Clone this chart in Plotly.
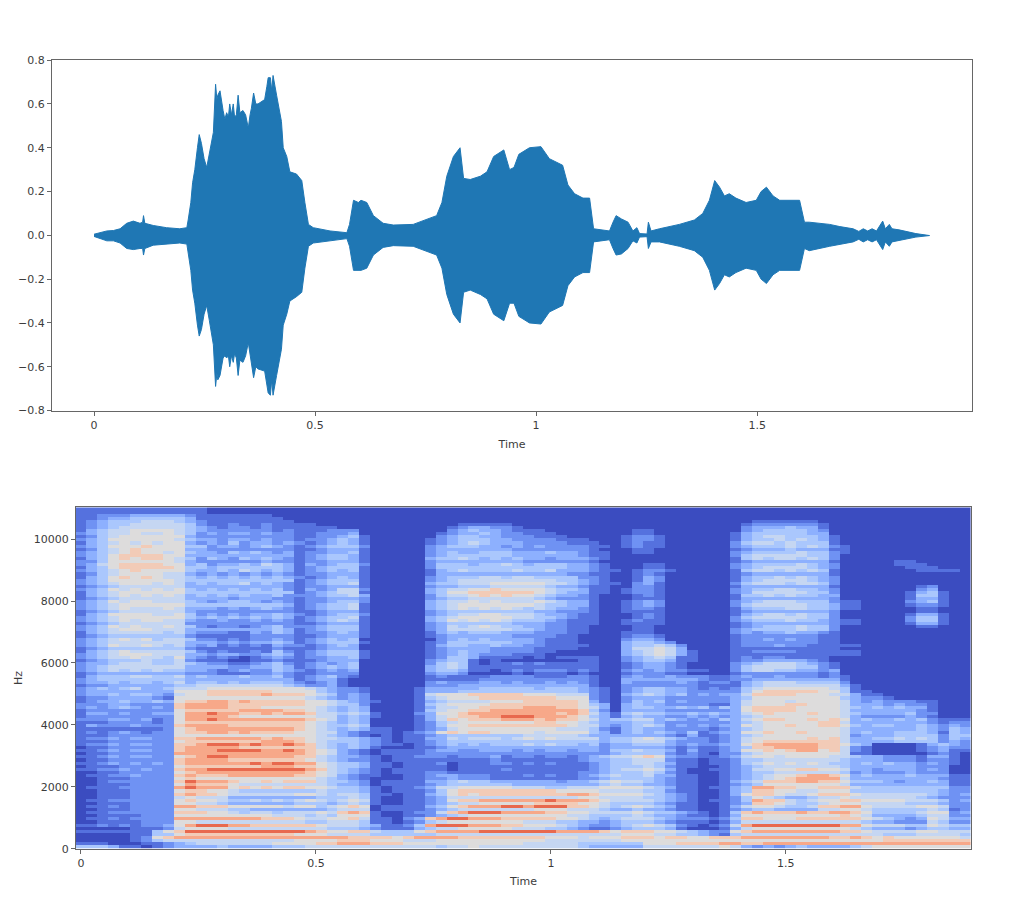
import plotly.graph_objects as go

# --- Waveform envelope ---
wave_time = [
    0, .014, .029, .044, .059, .074, .089, .104, .110, .112, .115, .134, .164, .194,
    .21, .213, .219, .223, .228, .234, .238, .243, .249, .255, .261, .27, .275, .278,
    .28, .285, .292, .296, .3, .304, .307, .311, .315, .318, .322, .326, .33, .337,
    .343, .349, .353, .356, .361, .366, .371, .386, .391, .394, .399, .402, .405, .409,
    .413, .424, .428, .436, .443, .458, .47, .477, .485, .496, .534, .572, .578, .587,
    .598, .604, .617, .632, .654, .677, .722, .775, .787, .798, .813, .828, .836, .851,
    .874, .889, .904, .927, .94, .95, .961, .985, 1.011, 1.03, 1.06, 1.072, 1.087, 1.106,
    1.121, 1.13, 1.166, 1.174, 1.181, 1.193, 1.208, 1.219, 1.228, 1.234, 1.251, 1.254, 1.26, 1.279,
    1.324, 1.358, 1.377, 1.392, 1.404, 1.415, 1.426, 1.437, 1.452, 1.475, 1.498, 1.509, 1.521, 1.536,
    1.551, 1.596, 1.607, 1.618, 1.664, 1.687, 1.702, 1.717, 1.73, 1.74, 1.75, 1.76, 1.77, 1.784,
    1.79, 1.799, 1.805, 1.821, 1.859, 1.89,
]
wave_upper = [
    .005, .012, .02, .022, .03, .055, .065, .055, .06, .09, .055, .045, .035, .03,
    .035, .07, .15, .24, .3, .4, .46, .42, .35, .31, .38, .47, .69, .62,
    .64, .66, .57, .53, .56, .54, .6, .55, .6, .54, .55, .64, .56, .57,
    .55, .49, .55, .58, .65, .6, .6, .62, .68, .72, .72, .66, .73, .68,
    .64, .52, .4, .36, .29, .28, .25, .15, .05, .035, .02, .012, .05, .16,
    .15, .16, .15, .09, .055, .047, .05, .09, .15, .27, .36, .4, .26, .255,
    .27, .29, .36, .39, .3, .31, .37, .4, .405, .35, .32, .23, .19, .17,
    .17, .03, .02, .06, .09, .075, .06, .02, .035, .008, .006, .06, .02, .03,
    .05, .07, .1, .16, .25, .22, .18, .19, .17, .15, .16, .2, .22, .18,
    .16, .16, .06, .06, .05, .04, .035, .03, .018, .03, .02, .03, .02, .065,
    .03, .05, .03, .025, .008, .001,
]
wave_lower = [
    -.005, -.014, -.025, -.025, -.035, -.06, -.065, -.06, -.06, -.09, -.06, -.045, -.04, -.035,
    -.04, -.07, -.16, -.25, -.31, -.41, -.46, -.43, -.36, -.32, -.39, -.5, -.69, -.63,
    -.66, -.64, -.56, -.55, -.56, -.55, -.6, -.55, -.58, -.54, -.56, -.64, -.57, -.58,
    -.55, -.49, -.55, -.58, -.65, -.6, -.61, -.62, -.68, -.72, -.73, -.66, -.73, -.68,
    -.64, -.52, -.41, -.36, -.3, -.28, -.26, -.15, -.05, -.035, -.025, -.015, -.05, -.16,
    -.16, -.16, -.15, -.09, -.055, -.047, -.05, -.09, -.15, -.27, -.36, -.4, -.26, -.25,
    -.27, -.29, -.36, -.39, -.31, -.31, -.37, -.4, -.405, -.35, -.32, -.23, -.19, -.17,
    -.17, -.03, -.02, -.06, -.09, -.085, -.06, -.025, -.035, -.008, -.006, -.06, -.03, -.03,
    -.05, -.07, -.1, -.16, -.25, -.22, -.18, -.19, -.17, -.15, -.16, -.2, -.22, -.18,
    -.16, -.16, -.06, -.07, -.05, -.04, -.035, -.03, -.018, -.03, -.02, -.03, -.02, -.065,
    -.03, -.05, -.03, -.025, -.008, -.001,
]

wave_ticks = [0, 0.5, 1, 1.5]
wave_tick_labels = ["0", "0.5", "1", "1.5"]
amp_ticks = [-0.8, -0.6, -0.4, -0.2, 0, 0.2, 0.4, 0.6, 0.8]
hz_ticks = [0, 2000, 4000, 6000, 8000, 10000]

# --- Spectrogram levels 0-9, one string per frequency band, highest band first ---
SPEC_ROWS = [
    "1111111111 1100000000 0000000000 0000000000 0000000000 0000000000 0000000000 0000000000 00",
    "1111111111 1100000000 0000000000 0000000000 0000000000 0000000000 0000000000 0000000000 00",
    "1122233333 2111111100 0000000000 0000000000 0000000000 0000000000 0000000000 0000000000 00",
    "1123344444 3111111110 0000000000 0000000000 0000000000 0000000000 0000000000 0000000000 00",
    "1234445554 3211111111 0000000000 0000000000 0000000000 0000000000 0011111100 0000000000 00",
    "1234455555 4211211211 1100000000 0000011111 0000000000 0000000000 0122222210 0000000000 00",
    "1234555555 4321221211 1111000000 0000123322 1000000000 0000000000 0233343310 0000000000 00",
    "1345566665 4322222212 1112220000 0000234332 1110000000 0110000000 0234444320 0000000000 00",
    "2345565565 4232332322 1122230000 0001233432 2111000000 0110000000 1344444330 0000000000 00",
    "1245666666 3222222222 1122341000 0002344332 2211100000 1221000000 1345544431 0000000000 00",
    "2346666665 4332332322 1223431000 0012344433 2222111000 1221000000 1344545431 0000000000 00",
    "1345656566 3232423323 2123431000 0012345433 3222211100 1211000000 2455454441 0000000000 00",
    "2346667666 4423323432 1234442000 0023444332 3232222110 1211000000 2344454542 1000000000 00",
    "1245676666 3322222222 1123331000 0023333333 2222222100 0110000000 1233343331 1000000000 00",
    "2345676656 4332434323 1223341000 0023433444 3334332110 0110000000 2344445442 1000000000 00",
    "2346777766 3333333333 1234431000 0023444444 3333332110 0000000000 2455555442 0000000000 00",
    "1346767765 4243243432 1234431000 0034454343 4332333210 0000000000 1454554542 0000000000 00",
    "2246666665 3222222322 1223331000 0023333333 3222222100 0000000000 1233333331 0000011000 00",
    "2356777766 3423343543 1323442000 0024443445 4344433210 0011000000 2344445432 0000011100 00",
    "1346777776 4434444443 1234441000 0024444444 4444433210 0011000000 2345555432 0000001110 00",
    "2345676666 4334354343 1234341000 0013454444 5445333211 0122100000 1455454541 0000000111 10",
    "1245666655 3232323232 1223331000 0013333333 3333322110 0121000000 1233333331 0000000000 00",
    "1346767655 4343434343 2123431000 0023444554 5544442210 0132000000 1344545432 0000000000 00",
    "2346666665 4444444444 1234441000 0023455555 5555443210 0132000000 1345555432 0000000000 00",
    "2345666565 3434453432 1234451000 0034455566 6665543211 0231000000 2455545542 0000000000 00",
    "1234555555 3333333332 1223331000 0023344455 5554332110 0221000000 1333333331 0000000120 00",
    "2346565656 4343434342 1323552000 0034556676 6665443110 1221000000 2344554432 0000000230 00",
    "1345666666 4444444444 1234551000 0034667777 7765433110 1221000000 2355555442 0000001341 00",
    "1345656565 3434343342 2234453000 0024556767 6654332100 0121000000 1445454433 0000001441 00",
    "1234555555 3333233322 1223332000 0023445555 5543222100 0111000000 1333333332 0000001331 00",
    "2346566555 4323443232 1223442000 0034556565 5565433100 1232000000 2345554442 1100002341 00",
    "2345666666 4444444443 1234451000 0034566666 6654433100 1232000000 2455555443 1100001221 00",
    "2345655565 3332323432 1234451000 0034565656 5454332100 1221000000 1344455443 1100000110 00",
    "1234555555 3222222222 1123331000 0023444444 4433222100 1111000000 1233333332 0000000110 00",
    "1346666556 4232323343 2123442000 0023455665 5543321100 0121000000 1345545442 0000001331 00",
    "2345666666 4343434343 1234451000 0034566666 5544321100 0121000000 2455555442 0000002441 00",
    "2345656655 3223223232 1234541000 0034656565 4443211100 1211000000 2344454432 1100002441 00",
    "1234555555 2222222222 1123331000 0023444444 3332211100 1111000000 1233333332 1100001331 00",
    "2346565565 4212212342 2234441000 0023545654 4332211000 0110000000 1234445442 0000000110 00",
    "2345666555 3333333343 1234441000 0023555555 4432211000 0110000000 2344445442 0000000000 00",
    "1345555545 3222113243 1223431000 0013434443 3322211000 1110000000 2323343321 0000000000 00",
    "1234444444 2111112222 1123331000 0012333333 2222110000 1221000000 1222222211 0000000000 00",
    "2345656455 4221212232 1234340000 0002343433 3321110000 2332000000 1223232211 0000000000 00",
    "2345555555 3332323343 1234441000 0012444444 3321110000 3443200000 1222222211 0000000000 00",
    "2346556545 3231212132 2123430000 0013443343 3221111000 3445420000 1222322111 1100000000 00",
    "1234444444 2111111121 1123330000 0012333322 2211110000 3556530000 1111111111 0000000000 00",
    "1345655555 4212112142 1234441000 0012343322 2211000000 3456531000 1122221111 1100000000 00",
    "2345666555 3323322343 1234441000 0012343222 1110000000 3456531000 1111111111 1100000000 00",
    "2345565546 3212101232 1223341000 0012443111 1010111100 2345411000 1212211110 0000000000 00",
    "1234445445 2111001121 1123330000 0023441010 0000001100 2344311000 1223333210 0000000000 00",
    "2334555445 4322112342 1232340000 0024541011 2121111100 1233210000 2345554321 0000000000 00",
    "2345555555 3333223343 1234340000 0034541111 1111111100 1233210000 2455554421 0000000000 00",
    "2345454544 3321232243 2123230000 0034431101 2122212100 2323221100 2455443323 0000000000 00",
    "1233333333 2221112232 1122220000 0023320000 1011101000 1222110000 1222222212 0000000000 00",
    "1344455445 3433343342 1234210000 0012111122 2211122100 2322322211 2322322212 1000000000 00",
    "2344444444 3333333333 1233100000 0011111222 2222222100 3333333211 2233333333 1000000000 00",
    "2334344345 3443434443 2123100000 0023222332 3223232100 3222232122 1345554444 2000000000 00",
    "1223333334 4555555554 3223100000 0022233333 3333333100 2222222111 1345555555 3100000000 00",
    "2343453345 5566666666 6543221000 0133333444 4434443210 2344332121 2456666665 4100000000 00",
    "2333333336 6677777766 6643221000 0133344444 4444443210 2344332222 2467777766 4110000000 00",
    "2334344325 6677777877 7654232000 0156667777 7666555210 3454342323 3577776665 5311000000 00",
    "1223333216 6666666666 6543232000 0145666777 7777666210 2333222222 3466666666 4322100000 00",
    "1233433436 7788787777 7665432100 0134555566 6777776310 2434232222 3566656666 5323222110 00",
    "2223322227 8888777777 7665442000 0145666677 7777776430 3433222211 3566677666 5333232210 00",
    "2323432327 8888777666 6654343000 0135566777 7888776530 3443343424 3677776666 5434343310 00",
    "1222222226 7777788887 7654343000 0145667788 8888887420 3333222222 3677776666 5333333210 00",
    "1332322336 8898877878 8755454100 0236678888 8888787531 4544334343 3567666766 5433334220 00",
    "1222222226 8888766666 6655343100 0135677889 9988876431 3433223232 3456666666 5322223210 00",
    "2223323126 8898888888 8765343000 0135767778 8878776534 4553432324 3567766767 6343343421 11",
    "1112222126 7777777777 7654343000 0124566666 6677665433 3443222222 3456666677 5333333321 22",
    "1322232227 8888777777 7654454000 0124667777 7777765532 3454232323 3656676677 6434433432 32",
    "1111111126 7888888888 7654343110 0123566666 6666555421 3433222212 3456666666 5333333432 43",
    "1212321226 7788787777 6655321110 1236767766 6656666431 3434324123 3667667666 5343344431 43",
    "1112222226 6666666666 6654321010 1123444444 4555554333 3333213112 3456666666 5233344442 44",
    "1223233227 7888888787 7655443210 1133545554 5656555534 4565432212 3566666767 5334454542 43",
    "1112222226 7777777888 7654443210 1123444444 4444444434 4555322212 3567777777 5333344442 32",
    "1223233227 7899989889 8754343211 0123434344 4545443423 3444323223 3678888877 6430000134 32",
    "0112222227 8888877777 7754343100 0112333333 3333333323 3333212112 3477888877 5210000123 22",
    "1123233227 8889999889 8765321011 1123322333 2323323324 4544313112 3667678867 5210000123 11",
    "0112222228 8888888888 8765321011 1122222222 2222222223 4444212102 2456666666 5110000012 10",
    "1123233226 7899888888 7754332101 1222122231 2212212345 5676322112 3566566665 5433222133 10",
    "0112222227 8888777777 7654322101 1111111121 1111112334 4555211011 2445555555 4333222122 10",
    "1123232327 8888889899 8865443110 1112011122 1212111234 4554311011 2456565654 4343433232 10",
    "0111222226 7777777888 7765443110 1111011111 1111111234 4454211001 2345555555 4333333222 00",
    "1122323227 8899999999 9875432101 1111011112 1111111234 5565310011 2355667766 5332333232 00",
    "0011222226 7888888888 8765432101 1122111111 1111112234 4454210001 2344555555 4232223222 00",
    "0112232227 8777888888 7765321100 1123322211 1212112345 4453311001 2345667887 6343334333 11",
    "0011122226 7666666666 6654321000 1122322211 1111112234 4443211001 2345678888 5333333332 11",
    "0012222227 9888766767 7754432011 1133454433 3333233456 5543211001 3457778877 6444323343 11",
    "0011122226 8777655555 5554332011 1123444444 3333333345 4433211001 2346666666 5333333333 11",
    "0111222228 9888676767 7665443101 1235566666 5554455566 6654311011 3488776677 7544444444 22",
    "0011122226 7766544444 4454443101 1124677777 7777666655 5544211001 3477665566 6444444443 22",
    "0011122227 8776555555 6654554110 1134676777 7777788766 6654321001 3677655677 7655555543 23",
    "0011122225 6555333333 3344454100 1123555555 5555556655 5544321001 2465433455 6555555432 22",
    "0112222226 7665445454 5654565100 1123677888 8889888765 5554321011 2487754566 7766665554 23",
    "0011122226 6554333333 4443454100 1123455666 6677776654 4443211001 2377654456 6655554443 22",
    "0112122228 8777666665 6645676011 1134678889 9899977654 5654311001 3566544577 8865555665 22",
    "0011122226 6555443333 3334555011 1123455555 5566655543 3433211001 2344333355 6654444454 12",
    "0112222227 7766545545 5565787100 1225789998 8887766555 5654432101 4787778778 8764444566 23",
    "0011112226 6666666655 5454666100 1123456666 6666655444 4543321101 3666666666 7653333455 22",
    "0112122228 8888888777 6556675110 2378998887 7777665434 5554322212 4776667777 7765432365 33",
    "0011112226 6555555555 5445554110 1245666666 6555443323 4443211101 3555555555 5543322254 22",
    "1121212236 8999887777 7765554311 2489998887 7666543223 4565421012 5899999999 8865554465 44",
    "0000011125 6666555555 5554443211 1345566666 5554432112 3444310001 3566666666 6543332344 33",
    "1111111467 9999999999 9876677544 4678888999 9999888876 7776654322 6788888888 7765555665 55",
    "0000011446 7777777777 6665555444 4445555555 5555555555 6665544321 4555555555 5555444555 54",
    "0000012678 8888888888 8888877776 7888877777 7776665666 7776776677 7888888887 7876766666 65",
    "0000012455 5555555555 6666777666 5556666666 6665555555 6666666666 6666666666 6666777777 77",
    "1110001123 4555555566 6677888777 6666666666 6555554444 4466677778 8778888888 8888888888 88",
    "4443110123 3334333344 4555555555 5554556555 5555554333 3355555556 5323234333 3456666666 66",
]

FRAME_SEC = 0.02322   # one spectrogram column
BAND_HZ = 100.23      # one spectrogram row

COOLWARM = ["#3b4cc0", "#5571de", "#6f92f3", "#8db0fe", "#aac7fd",
            "#c5d6f2", "#dddcdc", "#f2cbb7", "#f7a889", "#e8694e"]

spec_z = [[int(ch) for ch in row.replace(" ", "")] for row in reversed(SPEC_ROWS)]

W, H = 1016, 904
AXIS_GREY = "#666666"
TEXT_GREY = "#3c3c3c"
FONT = dict(family="DejaVu Sans", size=11, color=TEXT_GREY)


def ydom(px):
    # plot area comes out 892.6 px tall starting 4.75 px down the page
    return 1 - (px - 4.75) / 892.6


fig = go.Figure()

# waveform, filled between the two envelopes
fig.add_trace(go.Scatter(
    x=wave_time + wave_time[::-1],
    y=wave_upper + wave_lower[::-1],
    fill="toself",
    fillcolor="#1f77b4",
    mode="lines",
    line=dict(color="#1f77b4", width=1),
    hoverinfo="skip",
    showlegend=False,
    xaxis="x",
    yaxis="y",
))

# spectrogram
fig.add_trace(go.Heatmap(
    z=spec_z,
    x0=0,
    dx=FRAME_SEC,
    y0=BAND_HZ / 2,
    dy=BAND_HZ,
    zmin=0,
    zmax=9,
    colorscale=[[i / 9, c] for i, c in enumerate(COOLWARM)],
    showscale=False,
    xaxis="x2",
    yaxis="y2",
))

common = dict(
    showgrid=False,
    zeroline=False,
    showline=True,
    mirror=True,
    linecolor=AXIS_GREY,
    linewidth=1,
    ticks="outside",
    ticklen=4,
    tickcolor=AXIS_GREY,
    tickfont=FONT,
)

fig.update_layout(
    width=W,
    height=H,
    margin=dict(l=0, r=0, t=0, b=0),
    paper_bgcolor="white",
    plot_bgcolor="white",
    font=FONT,
    xaxis=dict(
        domain=[52 / W, 972 / W],
        range=[-0.095, 1.986],
        tickvals=wave_ticks,
        ticktext=wave_tick_labels,
        title=dict(text="Time", font=FONT, standoff=9),
        anchor="y",
        **common,
    ),
    yaxis=dict(
        domain=[ydom(410), ydom(59)],
        range=[-0.8, 0.8],
        tickvals=amp_ticks,
        tickformat=".1f",
        anchor="x",
        **common,
    ),
    xaxis2=dict(
        domain=[76 / W, 971 / W],
        range=[-0.0106, 1.894],
        tickvals=wave_ticks,
        ticktext=wave_tick_labels,
        title=dict(text="Time", font=FONT, standoff=8),
        anchor="y2",
        **common,
    ),
    yaxis2=dict(
        domain=[ydom(849), ydom(507)],
        range=[0, 11025],
        tickvals=hz_ticks,
        tickformat="d",
        title=dict(text="Hz", font=FONT, standoff=8),
        anchor="x2",
        **common,
    ),
)

fig.write_html("out.html", config={"displayModeBar": False},
               post_script="document.body.style.margin='0';")
